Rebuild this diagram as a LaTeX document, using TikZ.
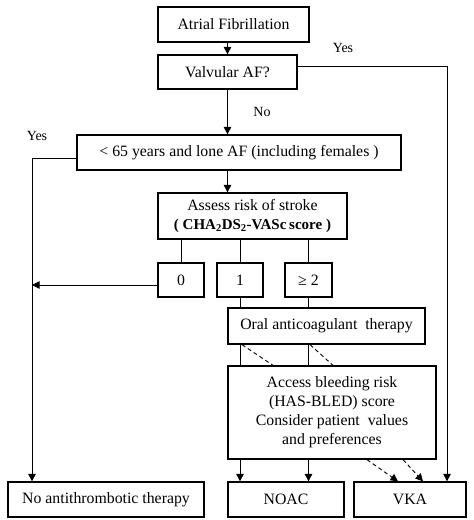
\documentclass[tikz,border=0pt]{standalone}
\usepackage{fontspec}
\setmainfont{Liberation Serif}
\usetikzlibrary{arrows.meta}
\begin{document}
\begin{tikzpicture}[x=1pt,y=-1pt,
  box/.style={draw,line width=1.3pt,inner sep=0pt,align=center,font=\fontsize{15.8}{19}\selectfont},
  conn/.style={line width=0.9pt},
  arr/.style={conn,-{Triangle[length=7.5pt,width=7.5pt]}},
  darr/.style={conn,dashed,dash pattern=on 4pt off 3pt},
  lbl/.style={font=\fontsize{14}{16}\selectfont,inner sep=0pt}]
\useasboundingbox (0,0) rectangle (474,520);
\node[box,minimum width=151pt,minimum height=35pt] (af) at (233.5,24.5) {Atrial Fibrillation};
\node[box,minimum width=139pt,minimum height=34pt] (val) at (227.5,72) {Valvular AF?};
\node[box,minimum width=324pt,minimum height=35pt] (lone) at (239,152.5) {< 65 years and lone AF (including females )};
\node[box,minimum width=189pt,minimum height=46pt] (assess) at (252.5,216) {Assess risk of stroke\\{\fontsize{15}{19}\selectfont\bfseries ( CHA\textsubscript{2}DS\textsubscript{2}-VASc\kern-1pt\ score )}};
\node[box,minimum width=46pt,minimum height=34pt] (s0) at (181,280) {0};
\node[box,minimum width=46pt,minimum height=34pt] (s1) at (240,280) {1};
\node[box,minimum width=47pt,minimum height=34pt] (s2) at (308.5,280) {≥ 2};
\node[box,minimum width=197pt,minimum height=36pt] (oral) at (326.5,326) {Oral anticoagulant\ \ therapy};
\node[box,minimum width=208pt,minimum height=93pt] (bleed) at (332,412.5) {Access bleeding risk\\(HAS-BLED) score\\Consider patient\ \ values\\and preferences};
\node[box,minimum width=196pt,minimum height=35pt] (none) at (106,499.5) {No antithrombotic therapy};
\node[box,minimum width=116pt,minimum height=35pt] (noac) at (286,499.5) {NOAC};
\node[box,minimum width=112pt,minimum height=35pt] (vka) at (410,499.5) {VKA};
\node[lbl] (yes1) at (343,48) {Yes};
\node[lbl] (no1) at (262,112) {No};
\node[lbl] (yes2) at (37,136) {Yes};
% coordinates
\coordinate (cR) at (447,66);
\coordinate (cL) at (32,158);
% main spine
\draw[arr] (af.south -| val.north) -- (val.north);
\draw[arr] (val.south) -- (val.south |- lone.north);
\draw[arr] (lone.south -| val.south) -- (assess.north -| val.south);
\draw[conn] (assess.south -| s0.north) -- (s0.north);
\draw[conn] (assess.south -| s1.north) -- (s1.north);
\draw[conn] (assess.south -| s2.north) -- (s2.north);
\draw[arr] ([yshift=-5pt]s0.west) -- ([yshift=-5pt]s0.west -| cL);
\draw[conn] (s1.south) -- (s1.south |- oral.north);
\draw[conn] (s2.south) -- (s2.south |- oral.north);
\draw[conn] (oral.south -| s1.south) -- (bleed.north -| s1.south);
\draw[conn] (oral.south -| s2.south) -- (bleed.north -| s2.south);
\draw[arr] (bleed.south -| s1.south) -- (noac.north -| s1.south);
\draw[arr] (bleed.south -| s2.south) -- (noac.north -| s2.south);
% dashed
\draw[darr] (oral.south -| 242,0) -- (bleed.north -| 273,0);
\draw[darr] (oral.south -| 310,0) -- (bleed.north -| 333,0);
\draw[darr,-{Triangle[length=7.5pt,width=7.5pt]}] (bleed.south -| 367,0) -- (vka.north -| 398,0);
\draw[darr,-{Triangle[length=7.5pt,width=7.5pt]}] (bleed.south -| 403,0) -- (vka.north -| 423,0);
% yes branches
\draw[arr] (val.east |- cR) -- (cR) -- (cR |- vka.north);
\draw[arr] (lone.west |- cL) -- (cL) -- (cL |- none.north);
\end{tikzpicture}
\end{document}
